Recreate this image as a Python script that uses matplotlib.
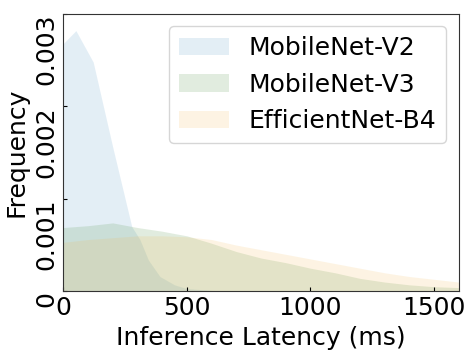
import matplotlib
matplotlib.use("Agg")
import matplotlib.pyplot as plt
import matplotlib.transforms as mtransforms

# latency grid (ms) and density values
v2_x = [0, 51, 121, 200, 277, 310, 344, 391, 450, 500, 600, 700, 1600]
v2_y = [0.00268, 0.00282, 0.00248, 0.00156, 0.00070, 0.00056, 0.00034, 0.00016, 0.00007, 0.00003, 0.00001, 0.0, 0.0]

v3_x = [0, 100, 200, 300, 400, 500, 600, 700, 800, 900, 1000, 1100, 1200, 1300, 1400, 1500, 1600]
v3_y = [0.00069, 0.00071, 0.00074, 0.00069, 0.00065, 0.00060, 0.00052, 0.00043, 0.00036, 0.00031, 0.00025,
        0.00020, 0.00014, 0.00010, 0.00007, 0.00005, 0.00004]

b4_x = [0, 100, 200, 300, 400, 500, 600, 700, 800, 900, 1000, 1100, 1200, 1300, 1400, 1500, 1600]
b4_y = [0.00053, 0.00056, 0.00058, 0.00060, 0.00060, 0.00059, 0.00056, 0.00050, 0.00045, 0.00040, 0.00035,
        0.00030, 0.00025, 0.00020, 0.00016, 0.00013, 0.00010]

labels = ["MobileNet-V2", "MobileNet-V3", "EfficientNet-B4"]
yticks = [0, 0.001, 0.002, 0.003]
ytick_labels = ["0", "0.001", "0.002", "0.003"]

plt.rcParams["font.size"] = 18

fig = plt.figure(figsize=(4.74, 3.55), dpi=100)
ax = fig.add_axes([0.1335, 0.1794, 0.8345, 0.7812])

ax.fill_between(v2_x, v2_y, color="tab:blue", alpha=0.12, linewidth=0, label=labels[0])
ax.fill_between(v3_x, v3_y, color="#5a9a50", alpha=0.18, linewidth=0, label=labels[1])
ax.fill_between(b4_x, b4_y, color="#f5b445", alpha=0.15, linewidth=0, label=labels[2])

ax.set_xlim(0, 1600)
ax.set_ylim(0, 0.003)
ax.set_yticks(yticks)
ax.set_yticklabels(ytick_labels, rotation=90, va="top")
# the labels sit a bit below their ticks in the original
shift = mtransforms.ScaledTranslation(0, 10 / 100, fig.dpi_scale_trans)
for lbl in ax.get_yticklabels():
    lbl.set_transform(lbl.get_transform() + shift)
ax.tick_params(direction="in", length=3)
for s in ax.spines.values():
    s.set_color("#333333")

ax.set_xlabel("Inference Latency (ms)", labelpad=4)
ax.set_ylabel("Frequency", labelpad=4)
ax.legend(loc="upper right", fontsize=18)

fig.savefig("out.png", dpi=100)
